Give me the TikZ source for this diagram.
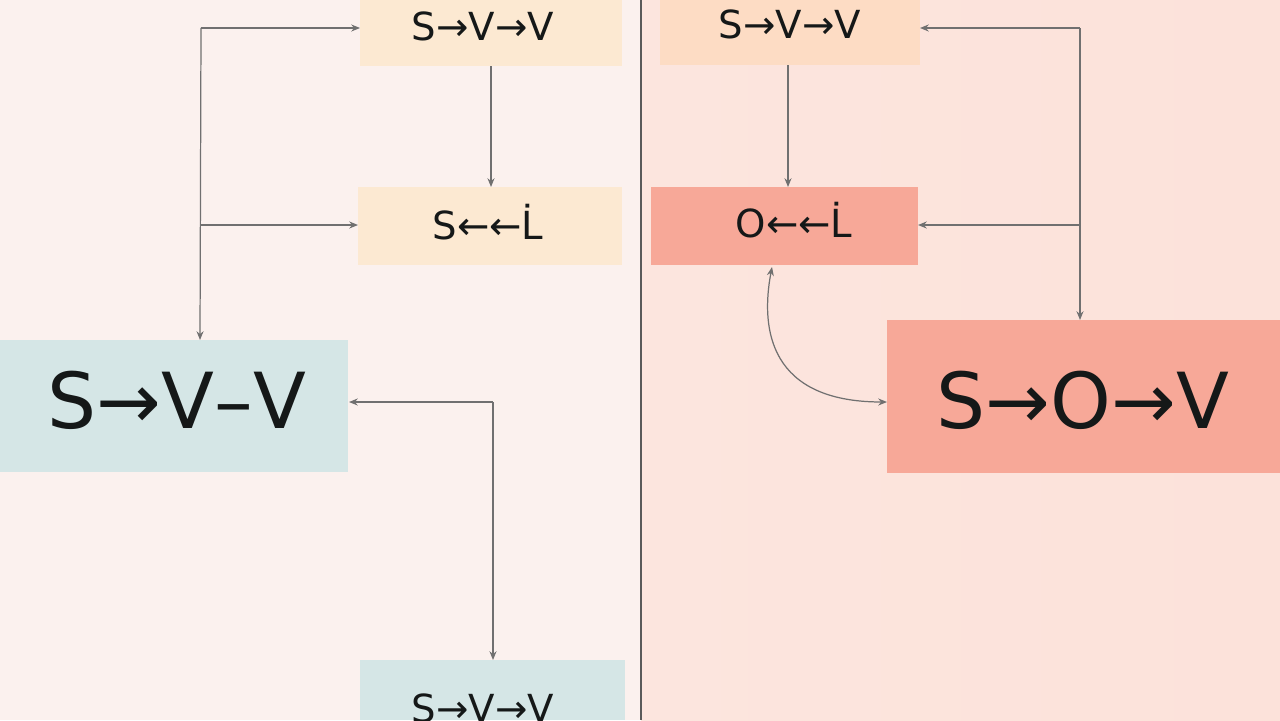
\documentclass[tikz,border=0pt]{standalone}
\usepackage{fontspec}
\usetikzlibrary{arrows.meta}
\setmainfont{DejaVu Sans}
\definecolor{bgl}{HTML}{FBF1EE}
\definecolor{bgr}{HTML}{FCE2DA}
\definecolor{peach}{HTML}{FCE9D2}
\definecolor{peach2}{HTML}{FDDCC4}
\definecolor{blu}{HTML}{D5E6E6}
\definecolor{salm}{HTML}{F7A898}
\definecolor{txt}{HTML}{151818}
\definecolor{ln}{HTML}{707070}
\begin{document}
\begin{tikzpicture}[x=0.02cm,y=-0.02cm,
  box/.style={inner sep=0pt,text=txt,font=\fontsize{22}{26}\selectfont},
  bigbox/.style={inner sep=0pt,text=txt,font=\fontsize{44}{52}\selectfont},
  con/.style={draw=ln,line width=0.7pt,-{Stealth[length=5pt,width=4pt]}}]
\useasboundingbox (0,0) rectangle (1280,720);
\fill[bgl] (0,0) rectangle (641,720);
\shade[left color=bgr!80!bgl,right color=bgr] (641,0) rectangle (1280,720);
\draw[ln!80!black,line width=1pt] (641,0) -- (641,720);
% left nodes
\fill[peach] (360,0) rectangle (622,66);
\node[box] (A) at (483,26) {S→V→V};
\coordinate (Al) at (360,28); \coordinate (Ab) at (491,66);
\fill[peach] (358,187) rectangle (622,265);
\node[box] (B) at (488,222) {S←←L̇};
\coordinate (Bl) at (358,225); \coordinate (Bt) at (491,187);
\fill[blu] (0,340) rectangle (348,472);
\node[bigbox] (C) at (177,400) {S→V–V};
\coordinate (Ct) at (200,340); \coordinate (Cr) at (349,402);
\fill[blu] (360,660) rectangle (625,720);
\node[box] (D) at (483,708) {S→V→V};
\coordinate (Dt) at (493,660);
% right nodes
\fill[peach2] (660,0) rectangle (920,65);
\node[box] (E) at (790,24) {S→V→V};
\coordinate (Er) at (920,28); \coordinate (Eb) at (788,65);
\fill[salm] (651,187) rectangle (918,265);
\node[box] (F) at (794,220) {O←←L̇};
\coordinate (Fr) at (918,225); \coordinate (Ft) at (788,187); \coordinate (Fb) at (772,267);
\fill[salm] (887,320) rectangle (1280,473);
\node[bigbox] (G) at (1083,400) {S→O→V};
\coordinate (Gt) at (1080,320); \coordinate (Gl) at (887,402);
% connectors left
\coordinate (j1) at (201,28); \coordinate (j2) at (201,225);
\draw[con] (j1) -- (Al);
\draw[con] (j1) -- (Ct);
\draw[con] (j2) -- (Bl);
\draw[con] (Ab) -- (Bt);
\coordinate (k1) at (493,402);
\draw[con] (k1) -- (Cr);
\draw[con] (k1) -- (Dt);
% connectors right
\draw[con] (Eb) -- (Ft);
\coordinate (m1) at (1080,28); \coordinate (m2) at (1080,225);
\draw[con] (m1) -- (Er);
\draw[con] (m1) -- (Gt);
\draw[con] (m2) -- (Fr);
\draw[con,{Stealth[length=5pt,width=4pt]}-{Stealth[length=5pt,width=4pt]}] (Fb) .. controls (760,330) and (770,402) .. (Gl);
\end{tikzpicture}
\end{document}
